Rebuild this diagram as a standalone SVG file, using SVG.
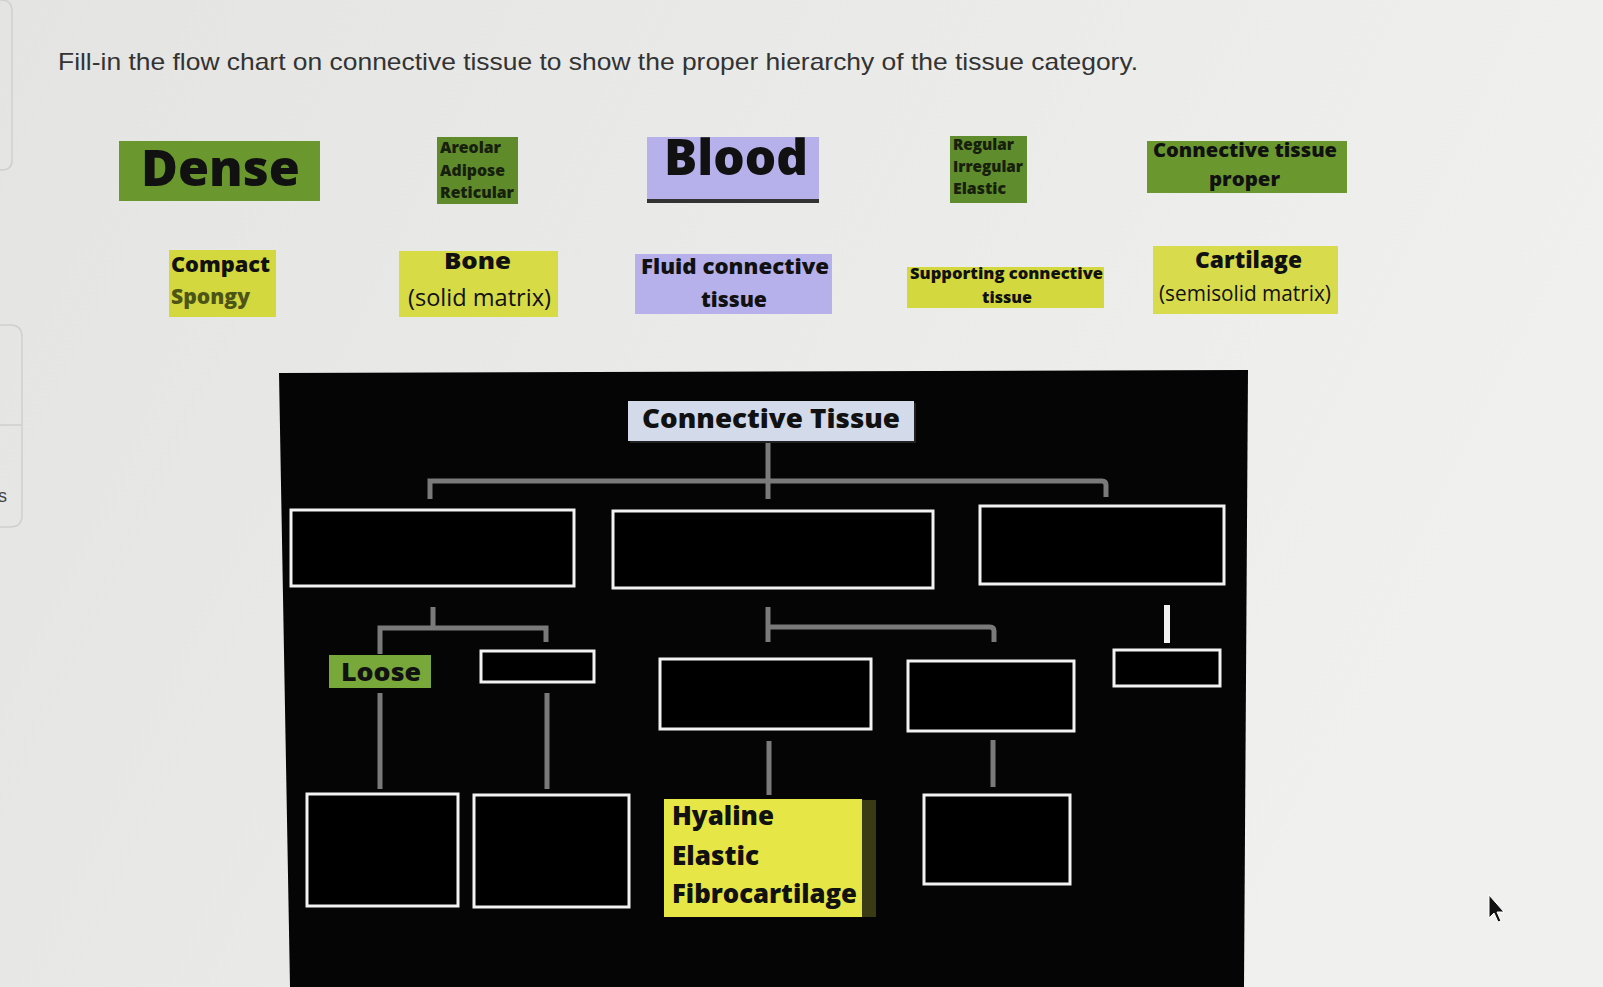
<svg xmlns="http://www.w3.org/2000/svg" width="1603" height="987" viewBox="0 0 1603 987">
<defs>
<linearGradient id="bg" x1="0" y1="0" x2="1" y2="0.3">
<stop offset="0" stop-color="#e4e4e2"/>
<stop offset="0.6" stop-color="#ebebe9"/>
<stop offset="1" stop-color="#f0f0ee"/>
</linearGradient>
<style>
.lbl{font-family:"Open Sans",Lato,"Liberation Sans",sans-serif;font-weight:800;fill:#111}
.reg{font-family:"Open Sans",Lato,"Liberation Sans",sans-serif;font-weight:400;fill:#111}
.green{fill:#6a982e}
.yel{fill:#d3d83e}
.lav{fill:#b6b1ea}
.blank{fill:#000;stroke:#f2f2f2;stroke-width:3}
.conn{stroke:#7a7a7a;stroke-width:5;fill:none}
</style>
</defs>
<rect width="1603" height="987" fill="url(#bg)"/>
<path d="M-5,0 L2,0 Q12,0 12,12 L12,160 Q12,170 2,170 L-5,170" fill="none" stroke="#cfcfcd" stroke-width="1.5"/>
<path d="M-5,325 L10,325 Q22,325 22,337 L22,515 Q22,527 10,527 L-5,527 M-5,425 L22,425" fill="none" stroke="#cfcfcd" stroke-width="1.5"/>
<text x="-2" y="502" style="font-family:'Liberation Sans',sans-serif;font-size:18px;fill:#444">s</text>
<text x="58" y="70" textLength="1080" lengthAdjust="spacingAndGlyphs" style="font-family:'Liberation Sans',Arial,sans-serif;font-size:24px;fill:#333">Fill-in the flow chart on connective tissue to show the proper hierarchy of the tissue category.</text>

<g id="dense"><rect x="119" y="141" width="201" height="60" class="green"/><text x="141" y="186" textLength="159" lengthAdjust="spacingAndGlyphs" class="lbl" style="font-size:50px">Dense</text></g>
<g id="areolar"><rect x="437" y="137" width="81" height="67" fill="#5f8b2b"/><text x="440" y="153" textLength="61" lengthAdjust="spacingAndGlyphs" class="lbl" style="font-size:15px;fill:#16200c">Areolar</text><text x="440" y="176" textLength="65" lengthAdjust="spacingAndGlyphs" class="lbl" style="font-size:15px;fill:#16200c">Adipose</text><text x="440" y="198" textLength="74" lengthAdjust="spacingAndGlyphs" class="lbl" style="font-size:15px;fill:#16200c">Reticular</text></g>
<g id="blood"><rect x="647" y="137" width="172" height="66" class="lav"/><rect x="647" y="199" width="172" height="4" fill="#333"/><text x="664" y="175" textLength="144" lengthAdjust="spacingAndGlyphs" class="lbl" style="font-size:50px">Blood</text></g>
<g id="regular"><rect x="950" y="136" width="77" height="67" fill="#5f8c2c"/><text x="953" y="150" textLength="61" lengthAdjust="spacingAndGlyphs" class="lbl" style="font-size:15px;fill:#16200c">Regular</text><text x="953" y="172" textLength="70" lengthAdjust="spacingAndGlyphs" class="lbl" style="font-size:15px;fill:#16200c">Irregular</text><text x="953" y="194" textLength="53" lengthAdjust="spacingAndGlyphs" class="lbl" style="font-size:15px;fill:#16200c">Elastic</text></g>
<g id="ctp"><rect x="1147" y="141" width="200" height="52" class="green"/><text x="1153" y="157" textLength="184" lengthAdjust="spacingAndGlyphs" class="lbl" style="font-size:19px">Connective tissue</text><text x="1209" y="186" textLength="71" lengthAdjust="spacingAndGlyphs" class="lbl" style="font-size:19px">proper</text></g>

<g id="compact"><rect x="169" y="250" width="107" height="67" class="yel"/><text x="171" y="272" textLength="99" lengthAdjust="spacingAndGlyphs" class="lbl" style="font-size:21px">Compact</text><text x="171" y="304" textLength="79" lengthAdjust="spacingAndGlyphs" class="lbl" style="font-size:21px;fill:#4c5516">Spongy</text></g>
<g id="bone"><rect x="399" y="251" width="159" height="66" fill="#d6db46"/><text x="444" y="269" textLength="67" lengthAdjust="spacingAndGlyphs" class="lbl" style="font-size:23px">Bone</text><text x="408" y="306" textLength="143" lengthAdjust="spacingAndGlyphs" class="reg" style="font-size:23px">(solid matrix)</text></g>
<g id="fluid"><rect x="635" y="254" width="197" height="60" class="lav"/><text x="641" y="274" textLength="188" lengthAdjust="spacingAndGlyphs" class="lbl" style="font-size:21px">Fluid connective</text><text x="701" y="307" textLength="66" lengthAdjust="spacingAndGlyphs" class="lbl" style="font-size:21px">tissue</text></g>
<g id="supporting"><rect x="907" y="267" width="197" height="41" class="yel"/><text x="910" y="279" textLength="193" lengthAdjust="spacingAndGlyphs" class="lbl" style="font-size:16px">Supporting connective</text><text x="982" y="303" textLength="50" lengthAdjust="spacingAndGlyphs" class="lbl" style="font-size:16px">tissue</text></g>
<g id="cartilage"><rect x="1153" y="246" width="185" height="68" fill="#d8dc4c"/><text x="1195" y="268" textLength="107" lengthAdjust="spacingAndGlyphs" class="lbl" style="font-size:23px">Cartilage</text><text x="1159" y="301" textLength="172" lengthAdjust="spacingAndGlyphs" class="reg" style="font-size:21px">(semisolid matrix)</text></g>

<polygon points="279,373 1248,370 1244,987 290,987" fill="#050505"/>

<g id="connectors">
<path class="conn" d="M768,441 V499 M430,499 V481 H1102 Q1106,481 1106,485 V497"/>
<path class="conn" d="M433,607 V627 M380,654 V628 H546 V642"/>
<path class="conn" d="M380,693 V789 M547,693 V789"/>
<path class="conn" d="M768,607 V642 M768,627 H990 Q994,627 994,631 V642"/>
<path class="conn" d="M769,741 V795 M993,740 V787"/>
<path d="M1167,605 V643" stroke="#f2f2f2" stroke-width="6"/>
</g>

<g id="ct"><rect x="630" y="403" width="286" height="40" fill="#222"/><rect x="628" y="401" width="286" height="40" fill="#d3dbea"/><text x="642" y="428" textLength="258" lengthAdjust="spacingAndGlyphs" class="lbl" style="font-size:26px">Connective Tissue</text></g>
<g id="boxA"><rect x="291" y="510" width="283" height="76" class="blank"/></g>
<g id="boxB"><rect x="613" y="511" width="320" height="77" class="blank"/></g>
<g id="boxC"><rect x="980" y="506" width="244" height="78" class="blank"/></g>
<g id="loose"><rect x="329" y="655" width="102" height="33" fill="#79a83a"/><text x="341" y="681" textLength="80" lengthAdjust="spacingAndGlyphs" class="lbl" style="font-size:25px">Loose</text></g>
<g id="boxD"><rect x="481" y="651" width="113" height="31" class="blank"/></g>
<g id="boxE"><rect x="307" y="794" width="151" height="112" class="blank"/></g>
<g id="boxF"><rect x="474" y="795" width="155" height="112" class="blank"/></g>
<g id="boxG"><rect x="660" y="659" width="211" height="70" class="blank"/></g>
<g id="boxH"><rect x="908" y="661" width="166" height="70" class="blank"/></g>
<g id="hyaline"><rect x="664" y="800" width="212" height="117" fill="#3a3a14"/><rect x="664" y="799" width="198" height="118" fill="#e6e746"/><text x="672" y="825" textLength="102" lengthAdjust="spacingAndGlyphs" class="lbl" style="font-size:26px">Hyaline</text><text x="672" y="865" textLength="87" lengthAdjust="spacingAndGlyphs" class="lbl" style="font-size:26px">Elastic</text><text x="672" y="903" textLength="185" lengthAdjust="spacingAndGlyphs" class="lbl" style="font-size:26px">Fibrocartilage</text></g>
<g id="boxI"><rect x="924" y="795" width="146" height="89" class="blank"/></g>
<g id="boxJ"><rect x="1114" y="650" width="106" height="36" class="blank"/></g>

<polygon points="1489,895 1489,918 1494,913 1498,922 1501,921 1497,912 1504,912" fill="#111" stroke="#fff" stroke-width="1"/>
</svg>
